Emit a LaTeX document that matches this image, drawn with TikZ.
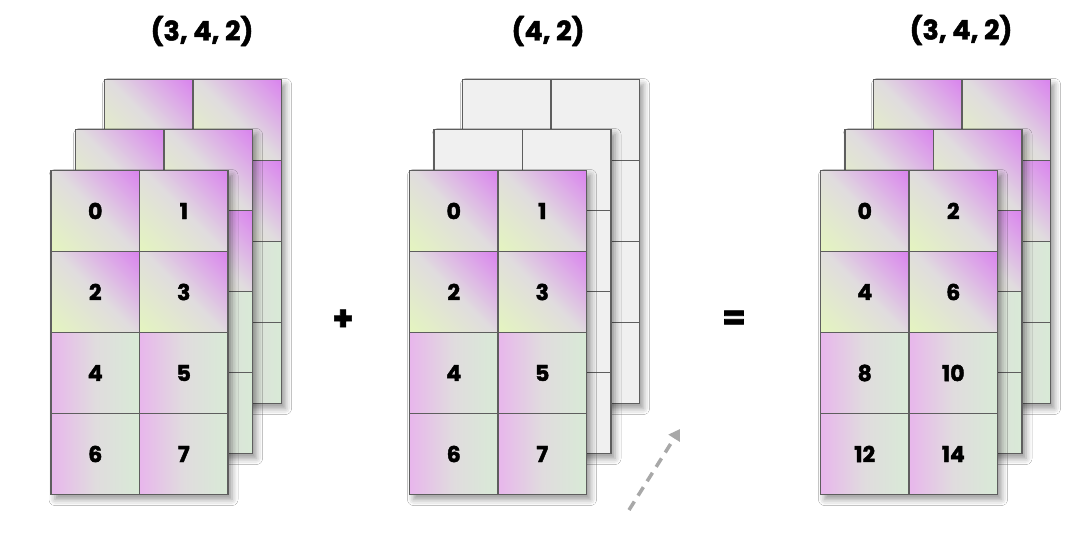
\documentclass[tikz,border=0pt]{standalone}
\usepackage{fontspec}
\newfontfamily\pop{Poppins}[BoldFeatures={FakeBold=1.8}]
\usetikzlibrary{shadows.blur,arrows.meta}
\definecolor{mag}{HTML}{DA86EE}
\definecolor{lime}{HTML}{E4F4C0}
\definecolor{midg}{HTML}{E0DCDE}
\definecolor{pinkl}{HTML}{E8B6EC}
\definecolor{greenr}{HTML}{D8EAD6}
\definecolor{greyc}{HTML}{F0F0F0}
\definecolor{edge}{HTML}{5E5E5E}
\definecolor{arrowc}{HTML}{A8A8A8}
\pgfdeclareverticalshading{diagsh}{100bp}{color(0bp)=(lime); color(16bp)=(lime); color(50bp)=(midg); color(84bp)=(mag); color(100bp)=(mag)}
\pgfdeclarehorizontalshading{horizsh}{100bp}{color(0bp)=(pinkl); color(25bp)=(pinkl); color(50bp)=(midg); color(75bp)=(greenr); color(100bp)=(greenr)}
\tikzset{
  cell/.style={draw=edge, line width=1.4pt, minimum width=88.5pt, minimum height=81pt,
    inner sep=0pt, outer sep=0pt, anchor=north west, font=\pop\bfseries\fontsize{22}{22}\selectfont},
  diag/.style={shading=diagsh, shading angle=-45},
  horiz/.style={shading=horizsh},
  greycell/.style={fill=greyc},
  layer/.style={fill=white, minimum width=177pt, minimum height=324pt, inner sep=0pt,
    outer sep=0pt, anchor=north west,
    blur shadow={shadow xshift=4pt, shadow yshift=-5pt, shadow blur radius=6pt, shadow opacity=40}},
  title/.style={font=\pop\bfseries\fontsize{27}{27}\selectfont},
  opsym/.style={font=\pop\bfseries\fontsize{34}{34}\selectfont},
  arrowst/.style={draw=arrowc, line width=3.5pt, dash pattern=on 10pt off 7pt,
    -{Triangle[length=11pt,width=13pt]}}
}
\newcommand\colorcells[3]{%
  \foreach \r in {0,1,2,3}{\foreach \c in {0,1}{%
    \pgfmathsetmacro\xx{#2+88.5*\c}\pgfmathsetmacro\yy{#3+81*\r}%
    \ifnum\r<2 \node[cell,diag] (#1-\r-\c) at (\xx,\yy) {};%
    \else \node[cell,horiz] (#1-\r-\c) at (\xx,\yy) {};\fi}}}
\newcommand\greycells[3]{%
  \foreach \r in {0,1,2,3}{\foreach \c in {0,1}{%
    \pgfmathsetmacro\xx{#2+88.5*\c}\pgfmathsetmacro\yy{#3+81*\r}%
    \node[cell,greycell] (#1-\r-\c) at (\xx,\yy) {};}}}
\newcommand\frontcells[4]{%
  \foreach \r/\c/\t in {#4}{%
    \pgfmathsetmacro\xx{#2+88.5*\c}\pgfmathsetmacro\yy{#3+81*\r}%
    \ifnum\r<2 \node[cell,diag] (#1-\r-\c) at (\xx,\yy) {\t};%
    \else \node[cell,horiz] (#1-\r-\c) at (\xx,\yy) {\t};\fi}}
\begin{document}
\begin{tikzpicture}[x=1pt,y=-1pt]
\useasboundingbox[fill=white] (0,0) rectangle (1091,534);
% left stack
\node[layer] (Lb) at (104.5,79.5) {};
\colorcells{Lb}{104.5}{79.5}
\node[layer] (Lm) at (75.5,129.5) {};
\colorcells{Lm}{75.5}{129.5}
\node[layer] (Lf) at (51,170.5) {};
\frontcells{Lf}{51}{170.5}{0/0/0,0/1/1,1/0/2,1/1/3,2/0/4,2/1/5,3/0/6,3/1/7}
% middle stack
\node[layer] (Mb) at (462.5,79.5) {};
\greycells{Mb}{462.5}{79.5}
\node[layer] (Mm) at (434,129.5) {};
\greycells{Mm}{434}{129.5}
\node[layer] (Mf) at (409.5,170.5) {};
\frontcells{Mf}{409.5}{170.5}{0/0/0,0/1/1,1/0/2,1/1/3,2/0/4,2/1/5,3/0/6,3/1/7}
% right stack
\node[layer] (Rb) at (873.5,79.5) {};
\colorcells{Rb}{873.5}{79.5}
\node[layer] (Rm) at (845,129.5) {};
\colorcells{Rm}{845}{129.5}
\node[layer] (Rf) at (820.5,170.5) {};
\frontcells{Rf}{820.5}{170.5}{0/0/0,0/1/2,1/0/4,1/1/6,2/0/8,2/1/10,3/0/12,3/1/14}
% titles
\node[title] (tL) at (202,31) {(3, 4, 2)};
\node[title] (tM) at (548,31) {(4, 2)};
\node[title] (tR) at (961,30) {(3, 4, 2)};
% operators
\node[opsym] (plus) at (343,320) {+};
\node[opsym] (eq) at (734,320) {=};
% arrow
\coordinate (a1) at (629,510);
\coordinate (a2) at (680,429);
\draw[arrowst] (a1) -- (a2);
\end{tikzpicture}
\end{document}
